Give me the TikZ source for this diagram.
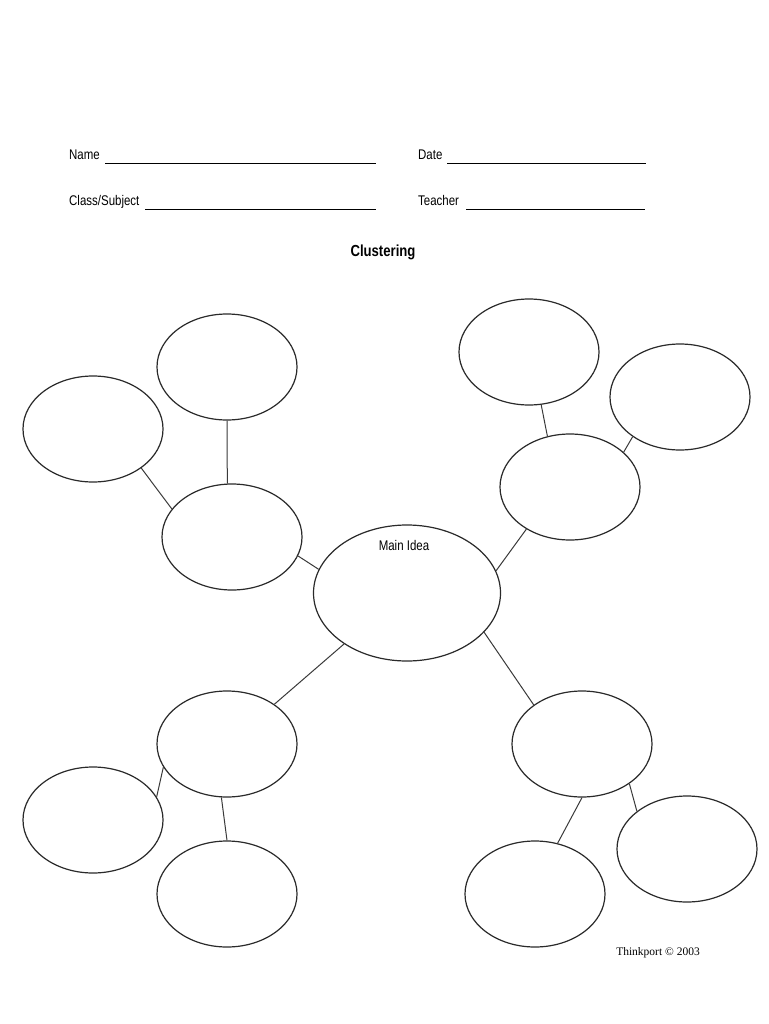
\documentclass[tikz,border=0pt]{standalone}
\usepackage{fontspec}
\setmainfont{Liberation Sans}[FakeStretch=0.82]
\newfontfamily\footfont{Liberation Serif}
\usetikzlibrary{shapes.geometric}
\definecolor{ink}{HTML}{2A2A2A}
\definecolor{linkc}{HTML}{3A3A3A}
\tikzset{
  bubble/.style={ellipse, draw=ink, line width=1.2pt, minimum width=140pt, minimum height=106pt, inner sep=0pt, fill=white},
  mainbubble/.style={bubble, minimum width=187pt, minimum height=136pt},
  link/.style={draw=linkc, line width=1pt},
  field/.style={anchor=base west, inner sep=0pt, font=\fontsize{14}{16}\selectfont},
  blank/.style={draw=black, line width=0.8pt},
}
\begin{document}
\begin{tikzpicture}[x=1pt,y=-1pt]
\useasboundingbox (0,0) rectangle (768,1024);
\fill[white] (0,0) rectangle (768,1024);

% header
\node[field] (name) at (69,160) {Name};
\node[field] (date) at (418,160) {Date};
\node[field] (cls) at (69,206) {Class/Subject};
\node[field] (teach) at (418,206) {Teacher};
\draw[blank] (105,163) -- (376,163);
\draw[blank] (447,163) -- (646,163);
\draw[blank] (145,209) -- (376,209);
\draw[blank] (466,209) -- (645,209);

\node[font=\bfseries\fontsize{16}{18}\selectfont] (title) at (383,252) {Clustering};

% bubbles
\node[mainbubble] (main) at (407,593) {};
\node[font=\fontsize{14}{16}\selectfont, inner sep=0pt] (mainlabel) at (404,545) {Main Idea};

\node[bubble] (lth) at (232,537) {};
\node[bubble] (lta) at (227,367) {};
\node[bubble] (ltb) at (93,429) {};

\node[bubble] (rth) at (570,487) {};
\node[bubble] (rta) at (529,352) {};
\node[bubble] (rtb) at (680,397) {};

\node[bubble] (lbh) at (227,744) {};
\node[bubble] (lbb) at (93,820) {};
\node[bubble] (lbc) at (227,894) {};

\node[bubble] (rbh) at (582,744) {};
\node[bubble] (rbb) at (687,849) {};
\node[bubble] (rbc) at (535,894) {};

% connectors
\draw[link] (lta.-90) -- (lth.95);
\draw[link] (ltb.-39) -- (lth.155);
\draw[link] (lth.-16) -- (main.165);

\draw[link] (main.14) -- (rth.-136);
\draw[link] (rta.-77) -- (rth.114);
\draw[link] (rtb.-140) -- (rth.33);

\draw[link] (main.-141) -- (lbh.40);
\draw[link] (lbh.-160) -- (lbb.20);
\draw[link] (lbh.-96) -- (lbc.90);

\draw[link] (main.-27) -- (rbh.141);
\draw[link] (rbh.-90) -- (rbc.66);
\draw[link] (rbh.-40) -- (rbb.143);

% footer
\node[font=\footfont\fontsize{11.5}{13}\selectfont, inner sep=0pt] (foot) at (658,953) {Thinkport © 2003};
\end{tikzpicture}
\end{document}
